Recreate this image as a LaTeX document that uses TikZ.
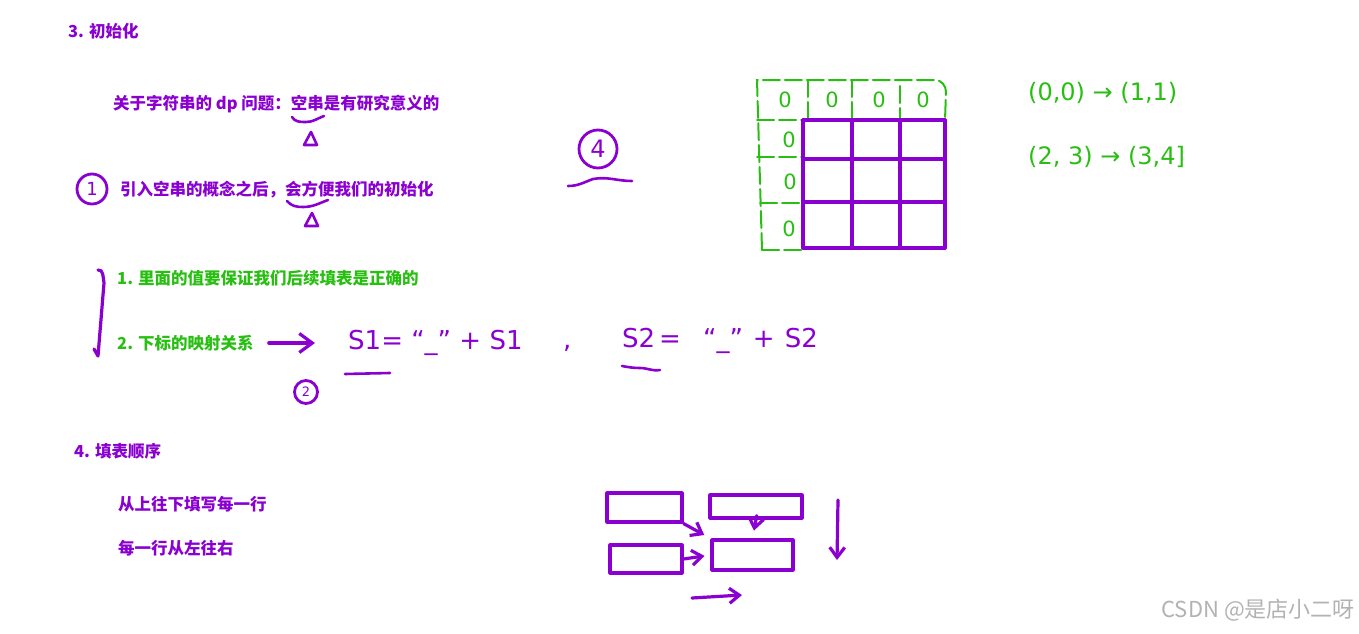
\documentclass[tikz,border=0pt]{standalone}
\usepackage{fontspec}
\usetikzlibrary{arrows.meta}
\newfontfamily\cjk{Noto Sans CJK SC}
\newfontfamily\hand{DejaVu Sans}
\definecolor{ink}{RGB}{138,0,208}
\definecolor{leaf}{RGB}{40,190,18}
\definecolor{faint}{RGB}{178,178,178}

\def \trimark#1#2{\draw[pen, line width=2.6pt] (#1-7,#2) -- (#1,#2-13) -- (#1+6,#2) -- cycle;}
\def \zero#1#2#3{\node[cell](#1) at(#2,#3) {0};}

\begin{document}
\begin{tikzpicture}[x=1pt, y=-1pt,
pen/.style={ink, line width=3.2pt, line cap=round, line join=round},
chalk/.style={leaf, line width=2pt, line cap=round, dash pattern=on 17pt off 5pt},
note/.style={font=\cjk\bfseries\fontsize{16.5}{18}\selectfont, anchor=west, inner sep=0pt},
cell/.style={leaf, font=\hand\fontsize{21}{21}\selectfont, inner sep=0pt},
sketch/.style={ink, font=\hand\fontsize{26}{26}\selectfont, anchor=west, inner sep=0pt},
ring/.style={pen, line width=2.8pt, circle, draw, inner sep=0pt, font=\hand},
box/.style={pen, draw, inner sep=0pt},
>={Straight Barb[length=10pt, width=15pt]}]

\useasboundingbox (0,0) rectangle (1359,634);

% section 3
\node[note, text=ink](h3) at(68,31) {3. 初始化};
\node[note, text=ink](q1) at(113,104) {关于字符串的 dp 问题：空串是有研究意义的};
\node[ring, minimum size=30pt, font=\hand\fontsize{18}{18}\selectfont](c1) at(92,189) {1};
\node[note, text=ink](q2) at(120,190) {引入空串的概念之后，会方便我们的初始化};

\draw[pen, line width=2.6pt] (292,117) to[out=-60, in=180] (306,122) to[out=0, in=200] (324,116);
\trimark{311}{145}
\draw[pen, line width=2.6pt] (287,201) to[out=-50, in=180] (303,207) to[out=0, in=200] (328,200);
\trimark{312}{226}

\node[ring, minimum size=38pt, font=\hand\fontsize{24}{24}\selectfont](c4) at(598,149) {4};
\draw[pen, line width=2.6pt] (568,186) to[out=0, in=200] (593,179) to[out=10, in=180] (632,181);

% brace and the two rules
\draw[pen] (98,270) to[out=10, in=100] (104,283) -- (98,356) -- (94,349);
\node[note, text=leaf](r1) at(117,278) {1. 里面的值要保证我们后续填表是正确的};
\node[note, text=leaf](r2) at(117,343) {2. 下标的映射关系};

\node[sketch](f1) at(348,343) {S1= “\_” + S1};
\node[sketch](cm) at(563,348) {,};
\node[sketch](f2) at(622,341) {S2\hspace{4pt}=\hspace{22pt}“\_”\hspace{10pt}+\hspace{10pt}S2};
\draw[pen, ->, >={Straight Barb[length=13pt, width=19pt]}, shorten <=15pt, shorten >=33pt] (r2.east) -- (f1.west |- r2.east);
\node[ring, minimum size=23pt, font=\hand\fontsize{13}{13}\selectfont](c2) at(306,392) {2};
\draw[pen, line width=2.6pt] (345,374) -- (390,373);
\draw[pen, line width=2.6pt] (622,366) to[out=-10, in=180] (640,368) to[out=0, in=190] (660,370);

% table
\begin{scope}[chalk]
\draw (762,250) -- (757,80) -- (935,80) to[out=0, in=90] (946,92) -- (945,120);
\draw (808,80) -- (808,120);
\draw (852,80) -- (852,120);
\draw (900,86) -- (900,120);
\draw (757,120) -- (803,120);
\draw (757,157) -- (803,157);
\draw (760,203) -- (803,203);
\draw (762,250) -- (803,250);
\end{scope}

\begin{scope}[pen]
\foreach \y in {120,159,202,248} \draw (803,\y) -- (945,\y);
\foreach \x in {803,852,900,945} \draw (\x,120) -- (\x,248);
\end{scope}

\zero{z0}{785}{100}
\zero{z1}{832}{100}
\zero{z2}{879}{100}
\zero{z3}{923}{100}
\zero{z4}{789}{140}
\zero{z5}{790}{182}
\zero{z6}{789}{229}

\node[cell, anchor=west, font=\hand\fontsize{24}{24}\selectfont](g1) at(1028,93) {(0,0) → (1,1)};
\node[cell, anchor=west, font=\hand\fontsize{24}{24}\selectfont](g2) at(1028,157) {(2, 3) → (3,4]};

% section 4
\node[note, text=ink](h4) at(74,451) {4. 填表顺序};
\node[note, text=ink](o1) at(118,504) {从上往下填写每一行};
\node[note, text=ink](o2) at(118,548) {每一行从左往右};

\node[box, minimum width=75pt, minimum height=29pt](b1) at(644.5,507.5) {};
\node[box, minimum width=92pt, minimum height=23pt](b2) at(756,506.5) {};
\node[box, minimum width=72pt, minimum height=28pt](b3) at(646,559) {};
\node[box, minimum width=81pt, minimum height=30pt](b4) at(752.5,555) {};

\begin{scope}[pen, ->]
\draw[shorten >=7pt] (b1.south east) -- (b4.north west);
\draw[shorten <=-4pt, shorten >=8pt] (b2.south) -- (b4.north);
\draw[shorten >=6pt] (b3.east) -- (b4.west);
\coordinate (d1) at(838,500);
\coordinate (d2) at(837,560);
\draw (d1) -- (d2);
\coordinate (e1) at(692,598);
\coordinate (e2) at(742,595);
\draw (e1) -- (e2);
\end{scope}

\node[text=faint, font=\cjk\fontsize{22}{22}\selectfont, anchor=east, inner sep=0pt](wm) at(1355,610) {CSDN @是店小二呀};

\end{tikzpicture}
\end{document}
